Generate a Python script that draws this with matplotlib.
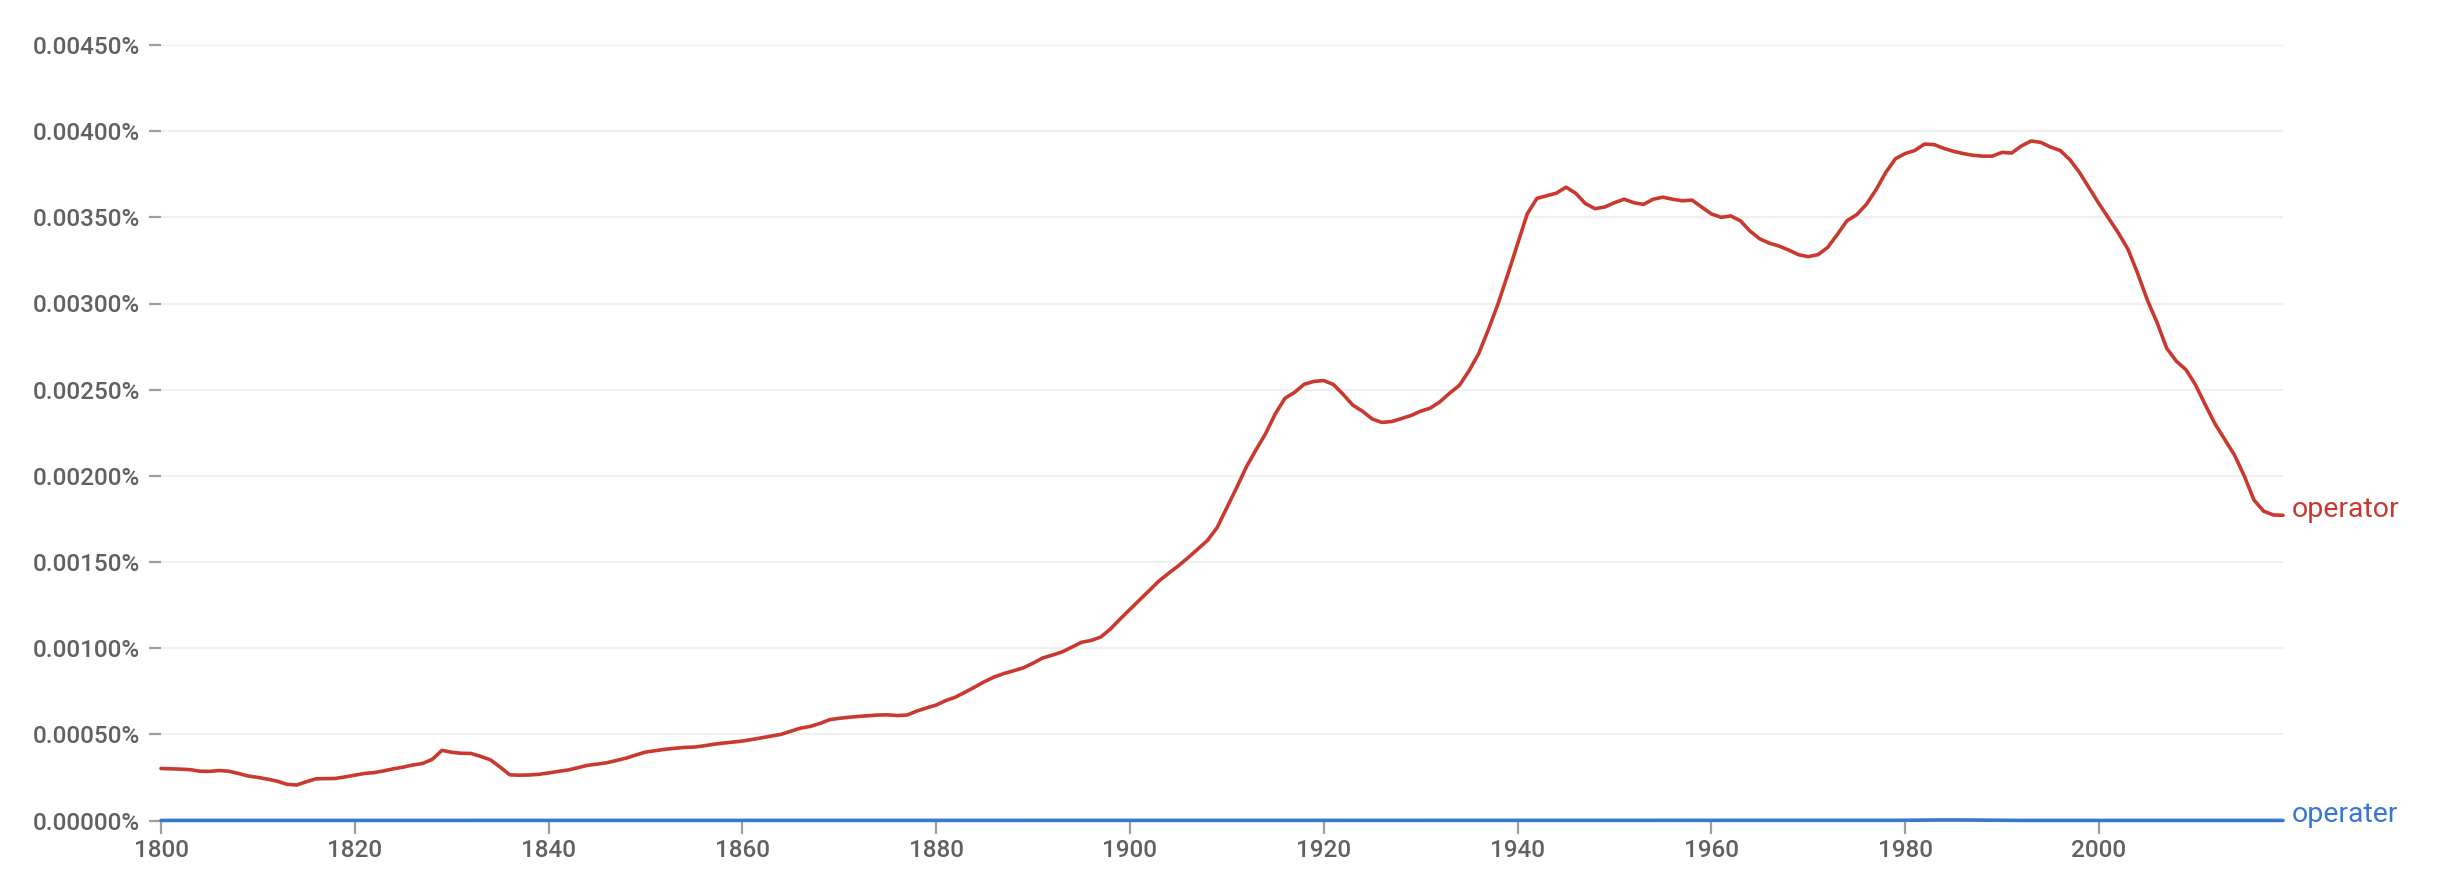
import matplotlib
matplotlib.use("Agg")
import matplotlib.pyplot as plt
from matplotlib.ticker import FuncFormatter, MultipleLocator

plt.rcParams['font.family'] = ['Roboto', 'DejaVu Sans']

# Years 1800..2019
years = list(range(1800, 2020))

# Frequency of "operator", in units of 0.00001 %
operator = [
    30.2, 30.0, 29.8, 29.5, 28.6, 28.5, 29.0, 28.6, 27.3, 25.8,   # 1800s
    25.0, 24.0, 22.8, 21.0, 20.6, 22.5, 24.2, 24.3, 24.4, 25.3,   # 1810s
    26.3, 27.3, 27.8, 28.8, 30.0, 31.0, 32.2, 33.1, 35.5, 40.7,   # 1820s
    39.6, 39.0, 38.9, 37.2, 35.2, 31.0, 26.5, 26.3, 26.4, 26.8,   # 1830s
    27.6, 28.5, 29.3, 30.6, 32.0, 32.7, 33.5, 34.8, 36.2, 38.0,   # 1840s
    39.7, 40.5, 41.3, 41.9, 42.4, 42.6, 43.3, 44.2, 44.9, 45.5,   # 1850s
    46.1, 47.0, 48.0, 49.0, 50.0, 51.8, 53.6, 54.6, 56.3, 58.5,   # 1860s
    59.3, 59.9, 60.4, 60.8, 61.2, 61.3, 60.9, 61.2, 63.5, 65.3,   # 1870s
    67.0, 69.6, 71.6, 74.5, 77.5, 80.6, 83.3, 85.3, 86.9, 88.6,   # 1880s
    91.3, 94.3, 96.0, 97.8, 100.6, 103.4, 104.5, 106.5, 111.2, 117.0,  # 1890s
    122.5, 128.0, 133.5, 139.0, 143.5, 147.8, 152.5, 157.5, 162.5, 170.0,  # 1900s
    181.5, 193.0, 205.0, 215.0, 224.5, 236.0, 245.0, 248.5, 253.2, 254.8,  # 1910s
    255.3, 253.0, 247.3, 241.0, 237.5, 233.0, 231.0, 231.5, 233.2, 235.0,  # 1920s
    237.5, 239.3, 243.0, 248.0, 252.5, 261.0, 271.0, 285.0, 300.0, 317.0,  # 1930s
    334.5, 352.0, 361.0, 362.5, 364.0, 367.5, 364.0, 358.0, 355.0, 356.0,  # 1940s
    358.5, 360.5, 358.5, 357.5, 360.5, 361.7, 360.5, 359.6, 360.0, 356.0,  # 1950s
    352.0, 350.0, 350.8, 348.0, 342.0, 337.5, 335.0, 333.3, 331.0, 328.3,  # 1960s
    327.2, 328.3, 332.5, 340.0, 348.0, 351.5, 357.5, 366.0, 376.0, 384.0,  # 1970s
    387.0, 388.8, 392.5, 392.2, 390.0, 388.3, 387.0, 386.0, 385.5, 385.5,  # 1980s
    387.7, 387.3, 391.4, 394.3, 393.5, 390.8, 388.8, 383.5, 376.0, 367.0,  # 1990s
    358.0, 349.5, 341.0, 331.5, 317.5, 302.0, 289.0, 274.0, 266.5, 261.5,  # 2000s
    252.5, 241.0, 230.0, 221.0, 212.0, 200.0, 186.0, 179.5, 177.3, 177.1,  # 2010s
]

# Frequency of "operater", in units of 0.00001 %
operater = [
    0.05, 0.05, 0.05, 0.05, 0.05, 0.05, 0.05, 0.05, 0.05, 0.05,
    0.05, 0.05, 0.05, 0.05, 0.05, 0.05, 0.05, 0.05, 0.05, 0.05,
    0.05, 0.05, 0.05, 0.05, 0.05, 0.05, 0.05, 0.05, 0.05, 0.05,
    0.05, 0.05, 0.05, 0.05, 0.05, 0.05, 0.05, 0.05, 0.05, 0.05,
    0.05, 0.05, 0.05, 0.05, 0.05, 0.05, 0.05, 0.05, 0.05, 0.05,
    0.05, 0.05, 0.05, 0.05, 0.05, 0.05, 0.05, 0.05, 0.05, 0.05,
    0.05, 0.05, 0.05, 0.05, 0.05, 0.05, 0.05, 0.05, 0.05, 0.05,
    0.05, 0.05, 0.05, 0.05, 0.05, 0.05, 0.05, 0.05, 0.05, 0.05,
    0.05, 0.05, 0.05, 0.05, 0.05, 0.05, 0.05, 0.05, 0.05, 0.05,
    0.05, 0.05, 0.05, 0.05, 0.05, 0.05, 0.05, 0.05, 0.05, 0.05,
    0.05, 0.05, 0.05, 0.05, 0.05, 0.05, 0.05, 0.05, 0.05, 0.05,
    0.05, 0.05, 0.05, 0.05, 0.05, 0.05, 0.05, 0.05, 0.05, 0.05,
    0.05, 0.05, 0.05, 0.05, 0.05, 0.05, 0.05, 0.05, 0.05, 0.05,
    0.05, 0.05, 0.05, 0.05, 0.05, 0.05, 0.05, 0.05, 0.05, 0.05,
    0.05, 0.05, 0.05, 0.05, 0.05, 0.05, 0.05, 0.05, 0.05, 0.05,
    0.05, 0.05, 0.05, 0.05, 0.05, 0.05, 0.05, 0.05, 0.05, 0.05,
    0.05, 0.05, 0.05, 0.05, 0.05, 0.05, 0.05, 0.05, 0.05, 0.05,
    0.05, 0.05, 0.05, 0.05, 0.05, 0.05, 0.05, 0.05, 0.08, 0.10,
    0.15, 0.20, 0.25, 0.30, 0.30, 0.30, 0.30, 0.25, 0.20, 0.15,
    0.10, 0.08, 0.05, 0.05, 0.05, 0.05, 0.05, 0.05, 0.05, 0.05,
    0.05, 0.05, 0.05, 0.05, 0.05, 0.05, 0.05, 0.05, 0.05, 0.05,
    0.05, 0.05, 0.05, 0.05, 0.05, 0.05, 0.05, 0.05, 0.05, 0.05,
]

series_names = ["operator", "operater"]
series_colors = ["#c9392f", "#3a76d3"]

UNIT = 1e-5  # values above are in 0.00001 %

W, H, DPI = 2440, 874, 100
fig = plt.figure(figsize=(W / DPI, H / DPI), dpi=DPI)
left, right = 161 / W, 2283 / W
bottom = (H - 820.5) / H
top = (H - 45) / H
ax = fig.add_axes([left, bottom, right - left, top - bottom])

for name, vals, col in zip(series_names, [operator, operater], series_colors):
    yv = [v * UNIT for v in vals]
    ax.plot(years, yv, color=col, lw=2.6, solid_capstyle='round',
            solid_joinstyle='round', zorder=3, clip_on=False)
    ax.annotate(name, xy=(years[-1], yv[-1]), xytext=(6, 4), textcoords='offset points',
                color=col, fontsize=20.5, va='center', ha='left', annotation_clip=False)

ax.set_xlim(1800, 2019)
ax.set_ylim(0, 0.0045)
ax.yaxis.set_major_locator(MultipleLocator(0.0005))
ax.xaxis.set_major_locator(MultipleLocator(20))
ax.yaxis.set_major_formatter(FuncFormatter(lambda v, p: f"{v:.5f}%"))
ax.xaxis.set_major_formatter(FuncFormatter(lambda v, p: f"{int(round(v))}"))

for s in ax.spines.values():
    s.set_visible(False)
ax.grid(axis='y', color='#f0f0f0', lw=1.6, zorder=0)
ax.grid(axis='x', visible=False)
ax.tick_params(axis='y', length=9, width=1.6, color='#9e9e9e', pad=6,
               labelsize=17.5, labelcolor='#616161')
ax.tick_params(axis='x', length=9, width=1.6, color='#9e9e9e', pad=4,
               labelsize=17.5, labelcolor='#616161')
for lab in ax.get_xticklabels() + ax.get_yticklabels():
    lab.set_fontweight('medium')
ax.set_facecolor('white')
fig.patch.set_facecolor('white')

fig.savefig("out.png", dpi=DPI, facecolor='white')
